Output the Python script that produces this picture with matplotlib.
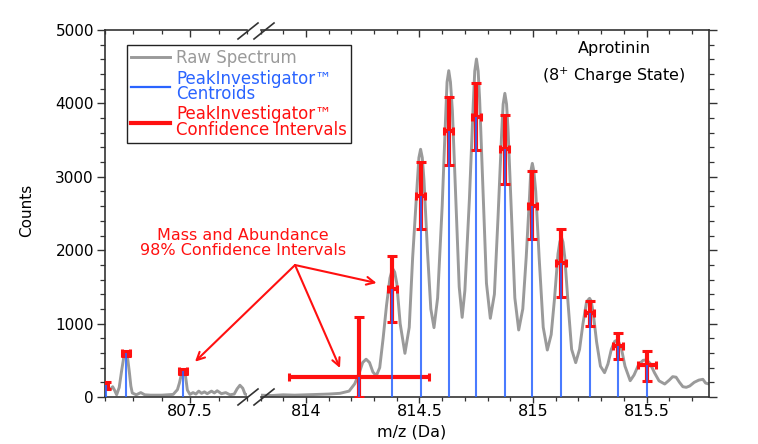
import matplotlib
matplotlib.use('Agg')
import numpy as np
import matplotlib.pyplot as plt
from matplotlib.ticker import MultipleLocator, FuncFormatter
from matplotlib.lines import Line2D

# ---------------- data ----------------
# raw spectrum, left segment (807.2 - 807.7)
raw_mz_left = [807.200, 807.210, 807.218, 807.227, 807.234, 807.241, 807.250, 807.259,
               807.266, 807.273, 807.280, 807.286, 807.291, 807.296, 807.310, 807.326,
               807.340, 807.360, 807.380, 807.400, 807.420, 807.440, 807.455, 807.462,
               807.469, 807.476, 807.483, 807.490, 807.499, 807.510, 807.520, 807.530,
               807.540, 807.550, 807.560, 807.575, 807.585, 807.595, 807.610, 807.625,
               807.640, 807.655, 807.665, 807.675, 807.685, 807.693, 807.700]
raw_cnt_left = [150, 120, 100, 140, 90, 30, 130, 370,
                540, 605, 520, 330, 150, 55, 30, 60,
                30, 25, 25, 25, 30, 35, 100, 190,
                310, 370, 300, 95, 35, 60, 40, 80,
                50, 70, 45, 80, 55, 85, 45, 60,
                30, 40, 110, 160, 120, 40, 30]

# raw spectrum, right segment (813.8 - 815.78)
raw_mz_right = [813.800, 813.850, 813.900, 813.950, 814.000, 814.050, 814.100, 814.150,
                814.190, 814.215, 814.235, 814.250, 814.265, 814.280, 814.295, 814.310,
                814.325, 814.340, 814.355, 814.370, 814.377, 814.384, 814.391, 814.400,
                814.415, 814.436,
                814.455, 814.470, 814.490, 814.4975, 814.505, 814.5125, 814.520, 814.535,
                814.550, 814.564,
                814.580, 814.600, 814.615, 814.6215, 814.629, 814.6365, 814.645, 814.660,
                814.675, 814.688,
                814.700, 814.720, 814.737, 814.7435, 814.751, 814.7585, 814.765, 814.780,
                814.795, 814.812,
                814.830, 814.846, 814.862, 814.8685, 814.876, 814.8835, 814.890, 814.905,
                814.920, 814.937,
                814.955, 814.970, 814.985, 814.990, 814.997, 815.004, 815.012, 815.027,
                815.045, 815.063,
                815.080, 815.095, 815.110, 815.118, 815.125, 815.132, 815.140, 815.155,
                815.170, 815.188,
                815.205, 815.220, 815.235, 815.242, 815.249, 815.256, 815.265, 815.280,
                815.297, 815.315,
                815.330, 815.345, 815.360, 815.374, 815.390, 815.405, 815.428, 815.445,
                815.465, 815.485, 815.500, 815.515, 815.535, 815.555, 815.580, 815.600,
                815.615, 815.630, 815.645, 815.660, 815.675, 815.690, 815.710, 815.730,
                815.748, 815.760, 815.775]
raw_cnt_right = [25, 20, 30, 25, 30, 35, 40, 50,
                 80, 180, 330, 470, 515, 470, 340, 290,
                 400, 800, 1250, 1620, 1700, 1740, 1700, 1550,
                 1000, 595,
                 950, 1900, 2900, 3260, 3375, 3260, 2950, 2000,
                 1200, 945,
                 1350, 2600, 3800, 4290, 4446, 4290, 3900, 2700,
                 1500, 1085,
                 1450, 2700, 4000, 4440, 4605, 4440, 4050, 2800,
                 1550, 1072,
                 1400, 2450, 3600, 3990, 4137, 3990, 3650, 2500,
                 1350, 913,
                 1200, 1900, 2750, 3070, 3183, 3070, 2800, 1900,
                 950, 640,
                 850, 1350, 1950, 2110, 2180, 2110, 1900, 1250,
                 650, 468,
                 650, 1000, 1280, 1320, 1344, 1310, 1150, 750,
                 420, 331,
                 450, 650, 760, 777, 650, 420, 222, 300,
                 440, 500, 504, 460, 330, 220, 177, 230,
                 277, 270, 200, 140, 132, 150, 200, 230,
                 241, 190, 177]

# PeakInvestigator centroids and confidence intervals
cen_mz_left = [807.202, 807.273, 807.476]
cen_cnt_left = [165, 600, 350]
ci_lo_left = [115, 565, 320]
ci_hi_left = [205, 630, 385]
ci_mz_left = [0.010, 0.014, 0.014]

cen_mz_right = [814.233, 814.380, 814.505, 814.629, 814.751, 814.876,
                814.997, 815.125, 815.249, 815.374, 815.502]
cen_cnt_right = [268, 1471, 2743, 3628, 3819, 3375, 2606, 1826, 1140, 699, 432]
ci_lo_right = [0, 1018, 2285, 3157, 3365, 2902, 2148, 1358, 972, 513, 222]
ci_hi_right = [1094, 1925, 3206, 4083, 4282, 3842, 3079, 2289, 1308, 876, 631]
ci_mz_right = [0.308, 0.020, 0.020, 0.020, 0.020, 0.020, 0.020, 0.022, 0.020, 0.022, 0.040]

xlim_left = (807.2, 807.7)
xlim_right = (813.8, 815.775)
ylim = (0, 5000)

# ---------------- style ----------------
GRAY = '#9a9a9a'
BLUE = '#2a64ff'
RED = '#ff1010'
SPINE = '#333333'

W, H = 758, 444
fig = plt.figure(figsize=(W / 100, H / 100), dpi=100)


def px_axes(x0, x1, y0, y1):
    return fig.add_axes([x0 / W, 1 - y1 / H, (x1 - x0) / W, (y1 - y0) / H])


ax1 = px_axes(105, 247, 30, 397)
ax2 = px_axes(260.5, 709, 30, 397)

fmt = FuncFormatter(lambda v, p: '%g' % v)


def draw(ax, rmz, rcnt, cmz, ccnt, lo, hi, mzerr, xlim):
    ax.plot(rmz, rcnt, color=GRAY, lw=2.1, zorder=1, solid_joinstyle='round',
            solid_capstyle='round')
    cmz = np.asarray(cmz)
    ccnt = np.asarray(ccnt)
    yerr = [ccnt - np.asarray(lo), np.asarray(hi) - ccnt]
    ax.errorbar(cmz, ccnt, yerr=yerr, fmt='none', ecolor=RED, elinewidth=3.0,
                capsize=3.4, capthick=2.2, zorder=3)
    ax.errorbar(cmz, ccnt, xerr=mzerr, fmt='none', ecolor=RED, elinewidth=3.0,
                capsize=3.0, capthick=2.2, zorder=3)
    ax.vlines(cmz, 0, ccnt, colors=BLUE, lw=1.5, alpha=0.85, zorder=4)
    ax.set_xlim(*xlim)
    ax.set_ylim(*ylim)
    ax.xaxis.set_major_locator(MultipleLocator(0.5))
    ax.xaxis.set_minor_locator(MultipleLocator(0.1))
    ax.xaxis.set_major_formatter(fmt)
    ax.yaxis.set_major_locator(MultipleLocator(1000))
    ax.yaxis.set_minor_locator(MultipleLocator(200))
    for s in ax.spines.values():
        s.set_color(SPINE)
        s.set_linewidth(1.2)
    ax.tick_params(axis='x', which='major', direction='out', length=4, width=1.0,
                   pad=1, labelsize=11.5, color=SPINE)
    ax.tick_params(axis='x', which='minor', direction='out', length=3, width=0.9,
                   color=SPINE)
    ax.tick_params(axis='y', which='major', direction='out', length=6, width=1.0,
                   labelsize=11, color=SPINE, pad=2)
    ax.tick_params(axis='y', which='minor', direction='out', length=3.5, width=0.9,
                   color=SPINE)
    # top ticks pointing inward
    sec = ax.secondary_xaxis('top')
    sec.xaxis.set_major_locator(MultipleLocator(0.5))
    sec.xaxis.set_minor_locator(MultipleLocator(0.1))
    sec.tick_params(which='major', direction='in', length=5, width=1.0, labeltop=False,
                    color=SPINE)
    sec.tick_params(which='minor', direction='in', length=3, width=0.9, color=SPINE)
    sec.spines['top'].set_visible(False)


draw(ax1, raw_mz_left, raw_cnt_left, cen_mz_left, cen_cnt_left, ci_lo_left, ci_hi_left,
     ci_mz_left, xlim_left)
draw(ax2, raw_mz_right, raw_cnt_right, cen_mz_right, cen_cnt_right, ci_lo_right,
     ci_hi_right, ci_mz_right, xlim_right)

ax1.spines['right'].set_visible(False)
ax2.spines['left'].set_visible(False)
ax2.yaxis.tick_right()
ax2.tick_params(axis='y', which='both', labelright=False)

# break marks
for cx in (248, 264):
    for cy in (31, 397):
        fig.add_artist(Line2D([(cx - 10) / W, (cx + 10) / W],
                              [(H - cy - 8) / H, (H - cy + 8) / H],
                              color=SPINE, lw=1.2))

# axis labels
fig.text(27 / W, 1 - 210 / H, 'Counts', rotation=90, ha='center', va='center', fontsize=11)
fig.text(412 / W, 1 - 432 / H, 'm/z (Da)', ha='center', va='center', fontsize=11.5)

# title texts
fig.text(614 / W, 1 - 49 / H, 'Aprotinin', ha='center', va='center', fontsize=11.5)
fig.text(614 / W, 1 - 76 / H, r'(8$^{+}$ Charge State)', ha='center', va='center',
         fontsize=11.5)

# legend
handles = [Line2D([], [], color=GRAY, lw=2.1),
           Line2D([], [], color=BLUE, lw=1.6),
           Line2D([], [], color=RED, lw=3.0)]
labels = ['Raw Spectrum', 'PeakInvestigator\u2122\nCentroids',
          'PeakInvestigator\u2122\nConfidence Intervals']
leg = fig.legend(handles, labels, loc='upper left',
                 bbox_to_anchor=(127 / W, 1 - 45 / H), bbox_transform=fig.transFigure,
                 borderaxespad=0, fancybox=False, framealpha=1, edgecolor='#222222',
                 fontsize=12, handlelength=2.3, handletextpad=0.4, labelspacing=0.15,
                 borderpad=0.25)
leg.get_frame().set_linewidth(1.0)
for t, c in zip(leg.get_texts(), [GRAY, BLUE, RED]):
    t.set_color(c)
    t.set_linespacing(0.8)

# annotation
fig.text(243 / W, 1 - 243 / H, 'Mass and Abundance\n98% Confidence Intervals',
         ha='center', va='center', fontsize=11.5, color=RED, linespacing=0.95)
start = (813.952, 1798)
arrow_kw = dict(arrowstyle='->', color=RED, lw=1.5, shrinkA=0, shrinkB=0,
                mutation_scale=14)
ax2.annotate('', xy=(807.517, 481), xycoords=ax1.transData, xytext=start,
             textcoords='data', arrowprops=arrow_kw, annotation_clip=False)
ax2.annotate('', xy=(814.150, 395), xytext=start, arrowprops=arrow_kw,
             annotation_clip=False)
ax2.annotate('', xy=(814.311, 1553), xytext=start, arrowprops=arrow_kw,
             annotation_clip=False)

fig.savefig('out.png', dpi=100)
